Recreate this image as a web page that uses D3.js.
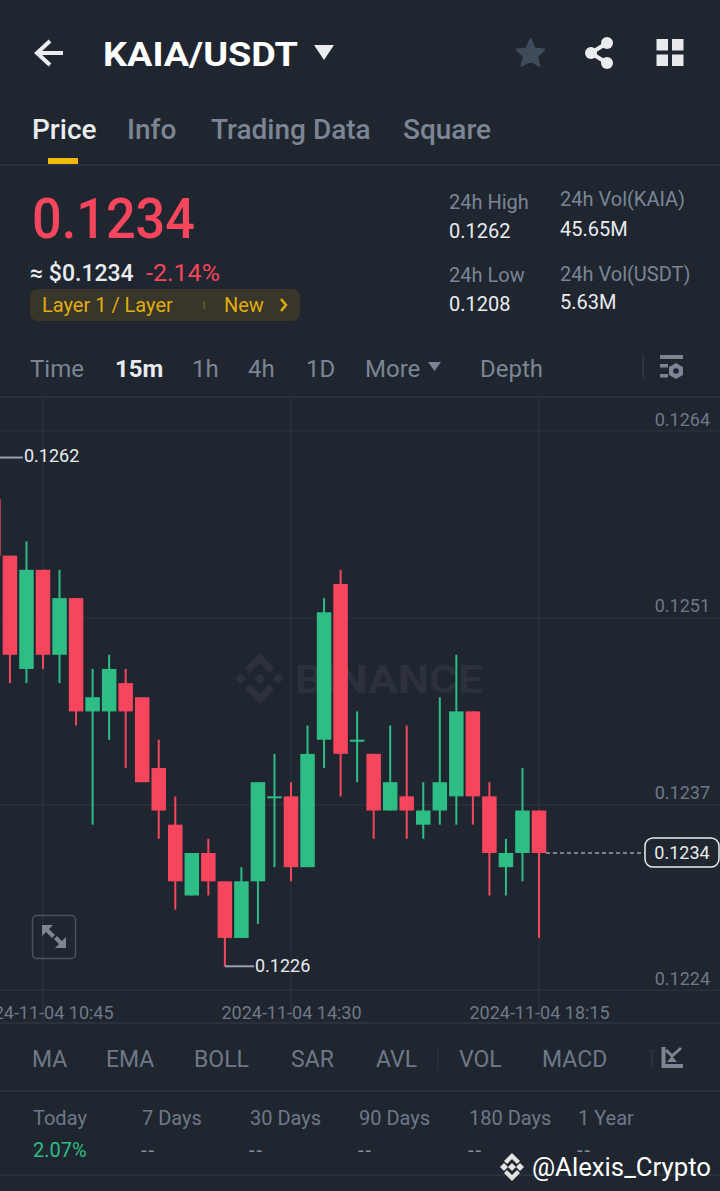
<!DOCTYPE html>
<html>
<head>
<meta charset="utf-8">
<script src="https://d3js.org/d3.v7.min.js"></script>
<style>
  html, body { margin: 0; padding: 0; background: #1f2630; overflow: hidden; }
  text { font-family: Roboto, sans-serif; }
</style>
</head>
<body>
<div id="my_dataviz"></div>
<script>
// candle data
var times = ["10:00","10:15","10:30","10:45","11:00","11:15","11:30","11:45","12:00","12:15","12:30","12:45",
  "13:00","13:15","13:30","13:45","14:00","14:15","14:30","14:45","15:00","15:15","15:30","15:45","16:00","16:15",
  "16:30","16:45","17:00","17:15","17:30","17:45","18:00","18:15"];
var open = [.1259,.1255,.1247,.1254,.1248,.1252,.1244,.1244,.1246,.1245,.1240,.1236,.1231,.1234,.1232,.1228,.1232,.1238,
  .1238,.1233,.1242,.1253,.1242,.1241,.1237,.1238,.1236,.1237,.1238,.1244,.1238,.1233,.1234,.1237];
var high = [.1259,.1255,.1256,.1254,.1254,.1252,.1247,.1248,.1247,.1245,.1242,.1238,.1234,.1235,.1232,.1233,.1239,.1241,
  .1239,.1243,.1252,.1254,.1244,.1241,.1243,.1243,.1239,.1245,.1248,.1244,.1239,.1235,.1240,.1237];
var low = [.1255,.1246,.1246,.1247,.1246,.1243,.1236,.1242,.1240,.1239,.1235,.1230,.1231,.1231,.1226,.1228,.1229,.1233,
  .1232,.1233,.1240,.1238,.1239,.1235,.1237,.1235,.1235,.1236,.1236,.1236,.1231,.1231,.1232,.1228];
var close = [.1255,.1248,.1254,.1248,.1252,.1244,.1245,.1247,.1244,.1239,.1237,.1232,.1234,.1232,.1228,.1232,.1239,.1238,
  .1233,.1241,.1251,.1241,.1242,.1237,.1239,.1237,.1237,.1239,.1244,.1238,.1234,.1234,.1237,.1234];

var priceTicks = [0.12638, 0.12506, 0.12374, 0.12243];
var timeTicks = ["10:45", "14:30", "18:15"];
var lastPrice = 0.1234, dayHigh = 0.1262, dayLow = 0.1226;

var tabs = ["Price", "Info", "Trading Data", "Square"];
var tabX = [32, 127, 211, 403];
var intervals = ["Time", "15m", "1h", "4h", "1D", "More", "Depth"];
var intervalX = [30, 115, 192, 248, 306, 365, 480];
var indicators = ["MA", "EMA", "BOLL", "SAR", "AVL", "VOL", "MACD"];
var indicatorX = [32, 106, 194, 291, 376, 459, 542];
var periods = ["Today", "7 Days", "30 Days", "90 Days", "180 Days", "1 Year"];
var periodValues = ["2.07%", "--", "--", "--", "--", "--"];
var periodX = [33, 142, 250, 359, 469, 578];

var bg = "#1f2630", up = "#2ebd85", down = "#f6465d", grey = "#7c8594", axisGrey = "#6f7887", dim = "#2a313c", light = "#eaecef";

var svg = d3.select("#my_dataviz")
  .append("svg")
    .attr("width", 720)
    .attr("height", 1191)
    .style("display", "block");

function label(str, x, y, size, fill, weight, anchor) {
  return svg.append("text")
    .attr("x", x).attr("y", y)
    .attr("font-size", size)
    .attr("fill", fill)
    .attr("font-weight", weight || 400)
    .attr("text-anchor", anchor || "start")
    .text(str);
}
function fit(sel, len) {
  return sel.attr("textLength", len).attr("lengthAdjust", "spacingAndGlyphs");
}
function hline(x1, x2, y, color) {
  svg.append("line").attr("x1", x1).attr("x2", x2).attr("y1", y).attr("y2", y)
    .attr("stroke", color || dim).attr("stroke-width", 2);
}

// header
svg.append("path").attr("d", "M63 53H38M50 41L37 53L50 65")
  .attr("fill", "none").attr("stroke", light).attr("stroke-width", 4);
fit(label("KAIA/USDT", 103, 66, 34, "#fff", 700), 195);
svg.append("path").attr("d", "M314 45H334L324 60Z").attr("fill", light);
svg.append("path").attr("d", "M530.500 39L534.500 48.500L544.500 49.500L537 56.500L539.500 66L530.500 61L521.500 66L524 56.500L516.500 49.500L526.500 48.500Z")
  .attr("fill", "#3f4a5b").attr("stroke", "#3f4a5b").attr("stroke-width", 2).attr("stroke-linejoin", "round");
svg.append("path").attr("d", "M607 43L591 53L607 63").attr("fill", "none").attr("stroke", light).attr("stroke-width", 4);
[[607, 43], [591, 53], [607, 63]].forEach(function (c) {
  svg.append("circle").attr("cx", c[0]).attr("cy", c[1]).attr("r", 6).attr("fill", light);
});
[[656.500, 39], [672, 39], [656.500, 54.500], [672, 54.500]].forEach(function (c) {
  svg.append("rect").attr("x", c[0]).attr("y", c[1]).attr("width", 11.500).attr("height", 11.500).attr("fill", "#e8e9ed");
});

// tabs
tabs.forEach(function (t, i) {
  label(t, tabX[i], 139, 28, i === 0 ? light : grey, 500);
});
svg.append("rect").attr("x", 48).attr("y", 158).attr("width", 30).attr("height", 6).attr("fill", "#f0b90b");
hline(0, 720, 165);

// price block
fit(label("0.1234", 32, 238, 56, down, 500), 163);
label("≈ $0.1234", 30, 281, 23, light, 500);
fit(label("-2.14%", 146, 281, 23, down, 400), 74);
svg.append("rect").attr("x", 30).attr("y", 289).attr("width", 270).attr("height", 32).attr("rx", 8).attr("fill", "#38352a");
label("Layer 1 / Layer", 42, 312, 20, "#e0ad0e");
svg.append("rect").attr("x", 203.500).attr("y", 301).attr("width", 1.500).attr("height", 8).attr("fill", "#6b5d20");
label("New", 224, 312, 20, "#e0ad0e");
svg.append("path").attr("d", "M281 299L286 305L281 311").attr("fill", "none").attr("stroke", "#e0ad0e").attr("stroke-width", 2.500);

label("24h High", 449, 209, 20, grey);
label("0.1262", 449, 238, 20, light);
label("24h Low", 449, 282, 20, grey);
label("0.1208", 449, 311, 20, light);
label("24h Vol(KAIA)", 560, 206, 20, grey);
label("45.65M", 560, 236, 20, light);
label("24h Vol(USDT)", 560, 281, 20, grey);
label("5.63M", 560, 309, 20, light);

// interval row
intervals.forEach(function (t, i) {
  label(t, intervalX[i], 376.500, 24, i === 1 ? light : grey, i === 1 ? 700 : 400);
});
svg.append("path").attr("d", "M428 362H441L434.500 371Z").attr("fill", grey);
svg.append("rect").attr("x", 642.500).attr("y", 354).attr("width", 1.500).attr("height", 24).attr("fill", "#333a46");
svg.append("path").attr("d", "M660 355H683V359H660ZM660 364H668V367.500H660ZM660 374H668V377.500H660Z").attr("fill", grey);
svg.append("path").attr("d", "M676 363L683 367V375L676 379L669 375V367Z").attr("fill", grey);
svg.append("circle").attr("cx", 676).attr("cy", 371).attr("r", 2.800).attr("fill", bg);
hline(0, 720, 397);

// scales: 0.1234 sits at y=853, 0.0001 is about 14.16px
var y = d3.scaleLinear().domain([0.1224, 0.1264]).range([994.6, 428.2]);
var parseTime = d3.timeParse("%Y-%m-%d %H:%M");
var t = function (s) { return parseTime("2024-11-04 " + s); };
var x = d3.scaleTime().domain([t("10:45"), t("18:15")]).range([43, 539]);

// watermark sits under the candles
var wm = svg.append("g").attr("fill", "#2c313c");
wm.append("path").attr("d", "M259.500 653L274 668L269 673L259.500 663L250 673L245 668ZM240.500 673L246 678.500L240.500 684L235 678.500ZM278.500 673L284 678.500L278.500 684L273 678.500ZM259.500 673L265 678.500L259.500 684L254 678.500ZM245 689L250 684L259.500 694L269 684L274 689L259.500 704Z");
fit(wm.append("text").attr("x", 295).attr("y", 692.500).attr("font-size", 39).attr("font-weight", 700).text("BINANCE"), 188);

// grid
svg.append("g").selectAll("line").data(priceTicks).enter().append("line")
  .attr("x1", 0).attr("x2", 720)
  .attr("y1", function (d) { return y(d); })
  .attr("y2", function (d) { return y(d); })
  .attr("stroke", dim).attr("stroke-width", 1.500);
svg.append("g").selectAll("line").data(timeTicks).enter().append("line")
  .attr("x1", function (d) { return x(t(d)); })
  .attr("x2", function (d) { return x(t(d)); })
  .attr("y1", 397).attr("y2", 1023)
  .attr("stroke", dim).attr("stroke-width", 1.500);

// axes
var yAxis = svg.append("g")
  .attr("transform", "translate(710,0)")
  .call(d3.axisLeft(y).tickValues(priceTicks).tickSize(0).tickFormat(d3.format(".4f")));
yAxis.select(".domain").remove();
yAxis.selectAll("text").attr("font-size", 18).attr("fill", axisGrey).attr("x", 0).attr("dy", "-6px").style("font-family", "Roboto, sans-serif");

var xAxis = svg.append("g")
  .attr("transform", "translate(0,1001)")
  .call(d3.axisBottom(x).tickValues(timeTicks.map(t)).tickSize(0).tickFormat(d3.timeFormat("%Y-%m-%d %H:%M")));
xAxis.select(".domain").remove();
xAxis.selectAll("text").attr("font-size", 18).attr("fill", axisGrey).attr("y", 3).attr("dy", "14.5px").style("font-family", "Roboto, sans-serif");
hline(0, 720, 1023);

// candles
var candles = svg.append("g").selectAll("g").data(times).enter().append("g");
function color(i) { return close[i] >= open[i] ? up : down; }
candles.append("line")
  .attr("x1", function (d) { return x(t(d)); })
  .attr("x2", function (d) { return x(t(d)); })
  .attr("y1", function (d, i) { return y(high[i]); })
  .attr("y2", function (d, i) { return y(low[i]); })
  .attr("stroke", function (d, i) { return color(i); })
  .attr("stroke-width", 2);
candles.append("rect")
  .attr("x", function (d) { return x(t(d)) - 7.250; })
  .attr("width", 14.500)
  .attr("y", function (d, i) { return y(Math.max(open[i], close[i])); })
  .attr("height", function (d, i) { return Math.max(2, Math.abs(y(open[i]) - y(close[i]))); })
  .attr("fill", function (d, i) { return color(i); });

// high / low markers
hline(0, 23, y(dayHigh) + 1, "#9aa1ab");
label("0.1262", 24, y(dayHigh) + 5, 18, light);
var lowX = x(t("13:30"));
hline(lowX, 254, y(dayLow), "#9aa1ab");
label("0.1226", 255, y(dayLow) + 6, 18, light);

// last price
svg.append("line").attr("x1", 546).attr("x2", 645).attr("y1", y(lastPrice)).attr("y2", y(lastPrice))
  .attr("stroke", "#9aa1ab").attr("stroke-width", 1.500).attr("stroke-dasharray", "4 3");
svg.append("rect").attr("x", 645).attr("y", 838).attr("width", 74).attr("height", 29).attr("rx", 8)
  .attr("fill", bg).attr("stroke", light).attr("stroke-width", 1.500);
label("0.1234", 682, y(lastPrice) + 6, 18, light, 400, "middle");

// expand button
svg.append("rect").attr("x", 32.500).attr("y", 915.500).attr("width", 43).attr("height", 43).attr("rx", 4)
  .attr("fill", "none").attr("stroke", "#4a5361").attr("stroke-width", 1.500);
svg.append("path").attr("d", "M42 925H53L49 929L55 935L52 938L46 932L42 936ZM66 948H55L59 944L54 939L57 936L62 941L66 937Z").attr("fill", grey);

// indicator row
indicators.forEach(function (s, i) {
  label(s, indicatorX[i], 1067, 23, axisGrey);
});
svg.append("rect").attr("x", 437).attr("y", 1046).attr("width", 1.500).attr("height", 24).attr("fill", dim);
label("R", 649, 1067, 23, "#2c323d");
svg.append("rect").attr("x", 655).attr("y", 1040).attr("width", 7).attr("height", 32).attr("fill", bg);
svg.append("path").attr("d", "M661.500 1047H665.500V1064H683V1068H661.500ZM667 1062L672 1056L677 1062Z").attr("fill", grey);
svg.append("path").attr("d", "M666 1050L672 1056L681 1048").attr("fill", "none").attr("stroke", grey).attr("stroke-width", 3);
hline(0, 720, 1091);

// performance row
periods.forEach(function (s, i) {
  label(s, periodX[i], 1125, 20, axisGrey);
  var v = label(periodValues[i], periodX[i] - (i ? 1 : 0), 1157, 20, i === 0 ? up : "#848e9c");
  if (i) v.attr("letter-spacing", 2);
});
hline(0, 720, 1175);

// author mark
svg.append("path").attr("d", "M512 1153L520 1161L517 1164L512 1159L507 1164L504 1161ZM504 1163L508 1167L504 1171L500 1167ZM520 1163L524 1167L520 1171L516 1167ZM512 1163L516 1167L512 1171L508 1167ZM504 1173L507 1170L512 1175L517 1170L520 1173L512 1181Z").attr("fill", "#e4e4e4");
fit(label("@Alexis_Crypto", 532, 1176, 25, "#fff", 400), 179);
</script>
</body>
</html>
